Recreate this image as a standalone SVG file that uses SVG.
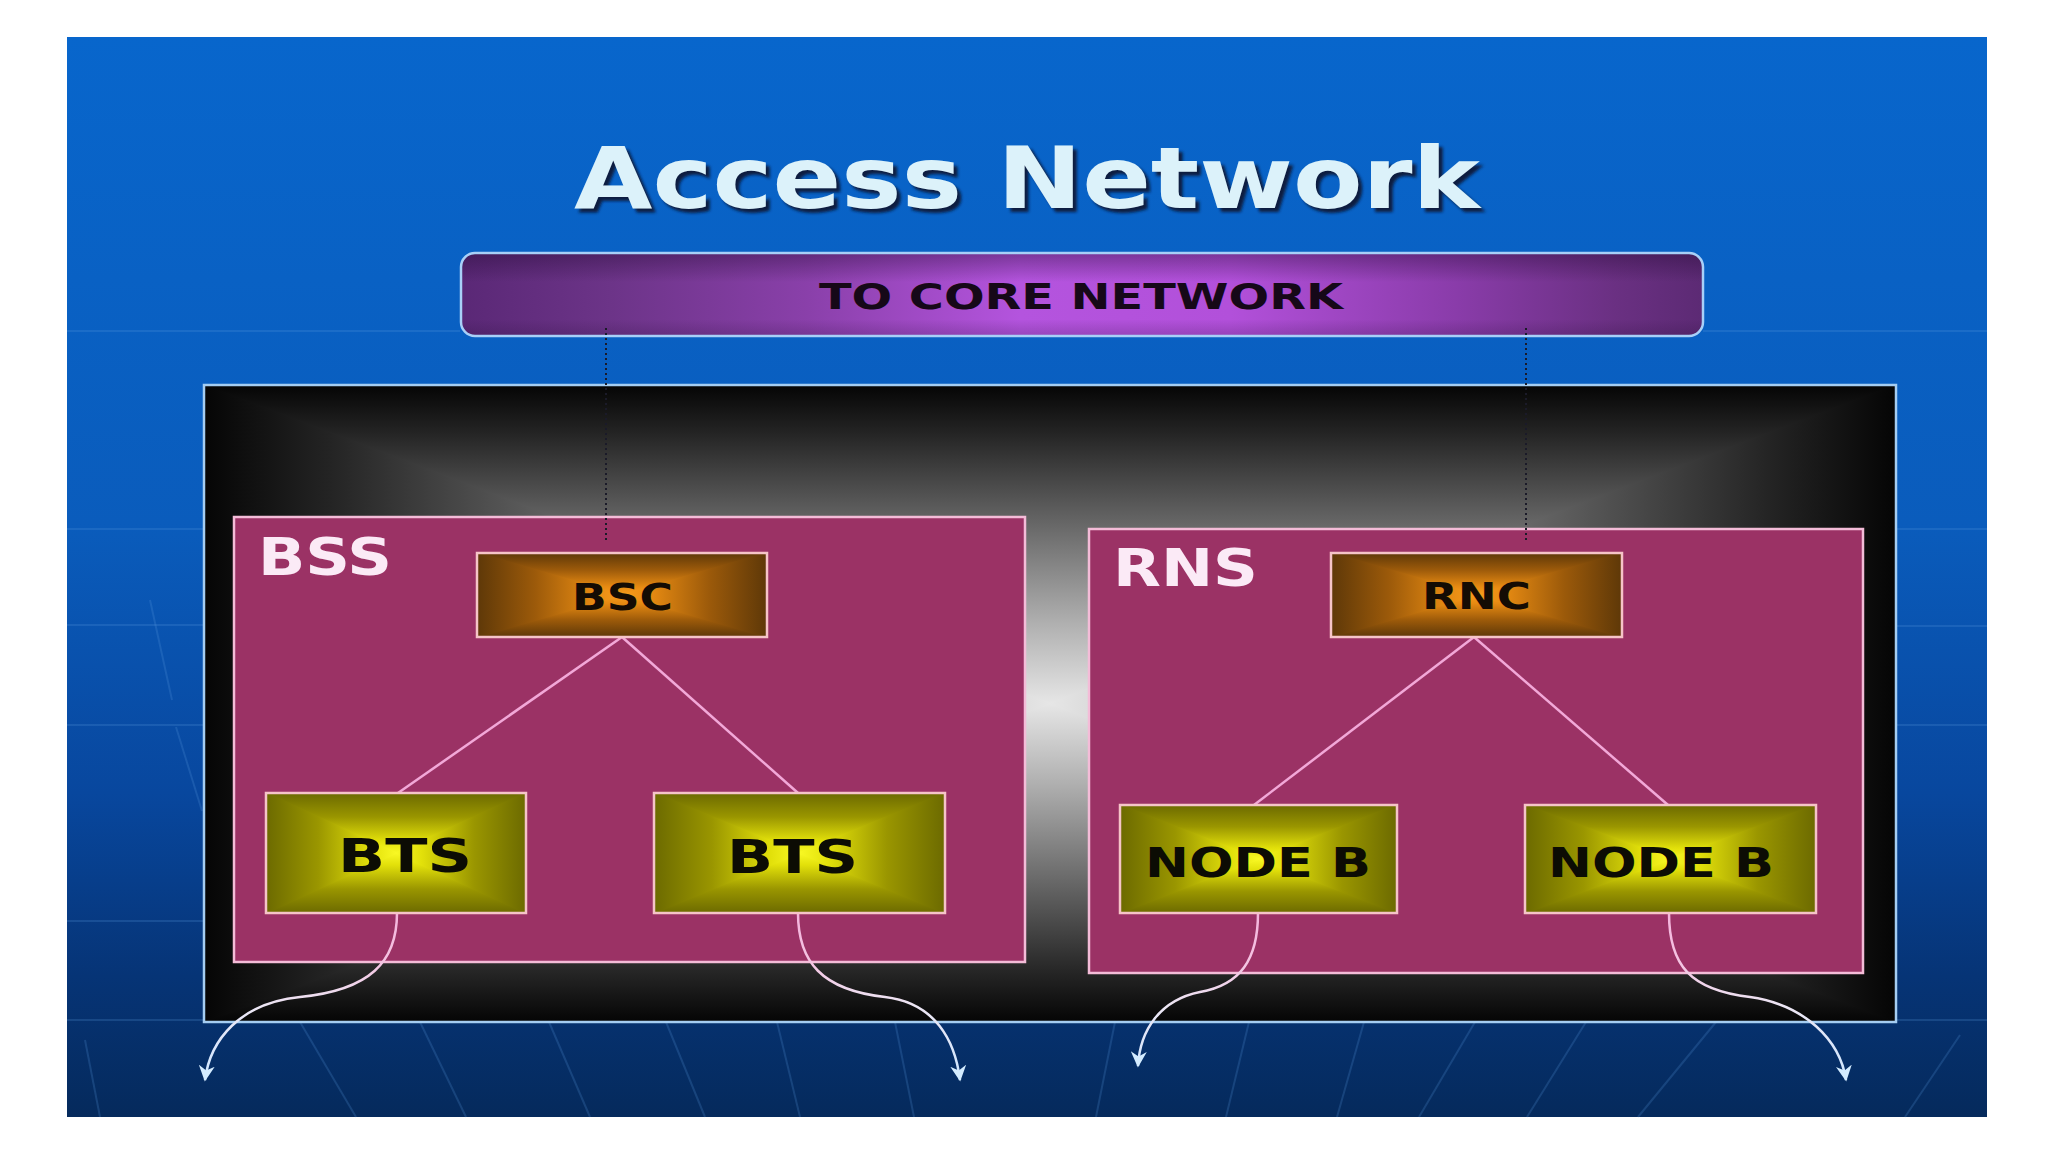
<svg xmlns="http://www.w3.org/2000/svg" xmlns:xlink="http://www.w3.org/1999/xlink" width="2048" height="1152" viewBox="0 0 2048 1152">
<defs>
  <style>
    .lbl { font-family: "DejaVu Sans", Verdana, sans-serif; font-weight: bold; }
    .node-border { fill: none; stroke: #f6c4c8; stroke-width: 2.5; }
    .grid { stroke: #5a9ae0; stroke-width: 2; opacity: 0.22; fill: none; }
    .tree { stroke: #f2a8d8; stroke-width: 2.5; fill: none; }
    .dot { stroke: #1a1a28; stroke-width: 2; stroke-dasharray: 2 3; fill: none; }
    .curve { stroke: url(#curveGrad); stroke-width: 2.5; fill: none; marker-end: url(#ah); }
    .box { fill: #9b3265; stroke: #f4bcd8; stroke-width: 2.5; }
    .seam { stroke-width: 1.5; stroke-linejoin: round; }
  </style>
  <linearGradient id="bgGrad" x1="0" y1="0" x2="0" y2="1">
    <stop offset="0" stop-color="#0866cc"/>
    <stop offset="0.45" stop-color="#0a5cbc"/>
    <stop offset="0.7" stop-color="#08479e"/>
    <stop offset="0.87" stop-color="#063476"/>
    <stop offset="1" stop-color="#052a5c"/>
  </linearGradient>
  <linearGradient id="kS">
    <stop offset="0" stop-color="#050505"/>
    <stop offset="0.15" stop-color="#242424"/>
    <stop offset="0.45" stop-color="#6a6a6a"/>
    <stop offset="0.75" stop-color="#b0b0b0"/>
    <stop offset="1" stop-color="#e6e6e6"/>
  </linearGradient>
  <linearGradient id="kT" xlink:href="#kS" href="#kS" x1="0" y1="0" x2="0" y2="1"/>
  <linearGradient id="kB" xlink:href="#kS" href="#kS" x1="0" y1="1" x2="0" y2="0"/>
  <linearGradient id="kL" xlink:href="#kS" href="#kS" x1="0" y1="0" x2="1" y2="0"/>
  <linearGradient id="kR" xlink:href="#kS" href="#kS" x1="1" y1="0" x2="0" y2="0"/>
  <linearGradient id="yS">
    <stop offset="0" stop-color="#6c6a00"/>
    <stop offset="0.4" stop-color="#9a9600"/>
    <stop offset="0.8" stop-color="#e2e00a"/>
    <stop offset="1" stop-color="#f8f824"/>
  </linearGradient>
  <linearGradient id="yT" xlink:href="#yS" href="#yS" x1="0" y1="0" x2="0" y2="1"/>
  <linearGradient id="yB" xlink:href="#yS" href="#yS" x1="0" y1="1" x2="0" y2="0"/>
  <linearGradient id="yL" xlink:href="#yS" href="#yS" x1="0" y1="0" x2="1" y2="0"/>
  <linearGradient id="yR" xlink:href="#yS" href="#yS" x1="1" y1="0" x2="0" y2="0"/>
  <linearGradient id="oS">
    <stop offset="0" stop-color="#5e3808"/>
    <stop offset="0.4" stop-color="#9c5a0a"/>
    <stop offset="0.8" stop-color="#e68a12"/>
    <stop offset="1" stop-color="#f69c1c"/>
  </linearGradient>
  <linearGradient id="oT" xlink:href="#oS" href="#oS" x1="0" y1="0" x2="0" y2="1"/>
  <linearGradient id="oB" xlink:href="#oS" href="#oS" x1="0" y1="1" x2="0" y2="0"/>
  <linearGradient id="oL" xlink:href="#oS" href="#oS" x1="0" y1="0" x2="1" y2="0"/>
  <linearGradient id="oR" xlink:href="#oS" href="#oS" x1="1" y1="0" x2="0" y2="0"/>
  <linearGradient id="barH" x1="0" y1="0" x2="1" y2="0">
    <stop offset="0" stop-color="#5a2876"/>
    <stop offset="0.12" stop-color="#6c3488"/>
    <stop offset="0.28" stop-color="#8a40aa"/>
    <stop offset="0.45" stop-color="#b454de"/>
    <stop offset="0.62" stop-color="#b250da"/>
    <stop offset="0.8" stop-color="#8a3caa"/>
    <stop offset="0.93" stop-color="#6a3082"/>
    <stop offset="1" stop-color="#5c2a74"/>
  </linearGradient>
  <linearGradient id="barV" x1="0" y1="0" x2="0" y2="1">
    <stop offset="0" stop-color="#200830" stop-opacity="0.4"/>
    <stop offset="0.35" stop-color="#200830" stop-opacity="0"/>
    <stop offset="0.8" stop-color="#200830" stop-opacity="0"/>
    <stop offset="1" stop-color="#200830" stop-opacity="0.2"/>
  </linearGradient>
  <linearGradient id="curveGrad" gradientUnits="userSpaceOnUse" x1="0" y1="913" x2="0" y2="1082">
    <stop offset="0" stop-color="#f4b4dc"/>
    <stop offset="0.3" stop-color="#f4c4e2"/>
    <stop offset="0.55" stop-color="#ece6f4"/>
    <stop offset="1" stop-color="#cce6ff"/>
  </linearGradient>
  <marker id="ah" viewBox="0 0 10 10" refX="9" refY="5" markerWidth="16" markerHeight="16" markerUnits="userSpaceOnUse" orient="auto">
    <path d="M0,0 L10,5 L0,10 L3,5 z" fill="#d4ecff"/>
  </marker>
  <filter id="blur" x="-5%" y="-20%" width="110%" height="140%">
    <feGaussianBlur stdDeviation="1.8"/>
  </filter>
</defs>

<rect x="0" y="0" width="2048" height="1152" fill="#ffffff"/>
<rect id="slide-bg" x="67" y="37" width="1920" height="1080" fill="url(#bgGrad)"/>

<g id="bg-grid">
  <line class="grid" x1="67" y1="331" x2="460" y2="331"/>
  <line class="grid" x1="1703" y1="331" x2="1987" y2="331"/>
  <line class="grid" x1="67" y1="529" x2="204" y2="529"/>
  <line class="grid" x1="67" y1="625" x2="204" y2="625"/>
  <line class="grid" x1="67" y1="725" x2="204" y2="725"/>
  <line class="grid" x1="67" y1="921" x2="204" y2="921"/>
  <line class="grid" x1="67" y1="1020" x2="204" y2="1020"/>
  <line class="grid" x1="1896" y1="529" x2="1987" y2="529"/>
  <line class="grid" x1="1896" y1="626" x2="1987" y2="626"/>
  <line class="grid" x1="1896" y1="725" x2="1987" y2="725"/>
  <line class="grid" x1="1896" y1="1020" x2="1987" y2="1020"/>
  <line class="grid" x1="176" y1="727" x2="202" y2="811"/>
  <line class="grid" x1="150" y1="600" x2="172" y2="700"/>
  <line class="grid" x1="85" y1="1040" x2="100" y2="1117"/>
  <line class="grid" x1="300" y1="1022" x2="356" y2="1117"/>
  <line class="grid" x1="420" y1="1022" x2="466" y2="1117"/>
  <line class="grid" x1="549" y1="1022" x2="590" y2="1117"/>
  <line class="grid" x1="666" y1="1022" x2="705" y2="1117"/>
  <line class="grid" x1="777" y1="1022" x2="800" y2="1117"/>
  <line class="grid" x1="895" y1="1022" x2="914" y2="1117"/>
  <line class="grid" x1="1115" y1="1022" x2="1096" y2="1117"/>
  <line class="grid" x1="1249" y1="1022" x2="1226" y2="1117"/>
  <line class="grid" x1="1364" y1="1022" x2="1337" y2="1117"/>
  <line class="grid" x1="1475" y1="1022" x2="1419" y2="1117"/>
  <line class="grid" x1="1586" y1="1022" x2="1527" y2="1117"/>
  <line class="grid" x1="1716" y1="1022" x2="1638" y2="1117"/>
  <line class="grid" x1="1960" y1="1035" x2="1905" y2="1117"/>
</g>

<g id="title">
  <text class="lbl" x="578" y="212" font-size="86" textLength="906" lengthAdjust="spacingAndGlyphs" fill="#0a1e40" filter="url(#blur)">Access Network</text>
  <text class="lbl" x="574" y="208" font-size="86" textLength="906" lengthAdjust="spacingAndGlyphs" fill="#dcf2fa">Access Network</text>
</g>

<g id="core-network">
  <rect x="461" y="253" width="1242" height="83" rx="14" fill="url(#barH)"/>
  <rect x="461" y="253" width="1242" height="83" rx="14" fill="url(#barV)" stroke="#a8d0f8" stroke-width="2.5"/>
  <text class="lbl" x="819" y="309" font-size="35" textLength="524" lengthAdjust="spacingAndGlyphs" fill="#160818">TO CORE NETWORK</text>
</g>

<g id="access-frame">
  <polygon class="seam" points="204,385 1896,385 1050,703.5" fill="url(#kT)" stroke="url(#kT)"/>
  <polygon class="seam" points="204,1022 1896,1022 1050,703.5" fill="url(#kB)" stroke="url(#kB)"/>
  <polygon class="seam" points="204,385 204,1022 1050,703.5" fill="url(#kL)" stroke="url(#kL)"/>
  <polygon class="seam" points="1896,385 1896,1022 1050,703.5" fill="url(#kR)" stroke="url(#kR)"/>
  <rect x="204" y="385" width="1692" height="637" fill="none" stroke="#a4cdf2" stroke-width="2.5"/>
</g>

<g id="bss">
  <rect class="box" x="234" y="517" width="791" height="445"/>
  <text class="lbl" x="258" y="575" font-size="51" textLength="134" lengthAdjust="spacingAndGlyphs" fill="#fbeaf6">BSS</text>
</g>
<g id="rns">
  <rect class="box" x="1089" y="529" width="774" height="444"/>
  <text class="lbl" x="1113" y="586" font-size="51" textLength="145" lengthAdjust="spacingAndGlyphs" fill="#fbeaf6">RNS</text>
</g>

<g id="connectors">
  <line class="dot" x1="606" y1="328" x2="606" y2="540"/>
  <line class="dot" x1="1526" y1="328" x2="1526" y2="540"/>
  <line class="tree" x1="622" y1="637" x2="398" y2="793"/>
  <line class="tree" x1="622" y1="637" x2="798" y2="793"/>
  <line class="tree" x1="1474" y1="637" x2="1254" y2="805"/>
  <line class="tree" x1="1474" y1="637" x2="1668" y2="805"/>
  <path class="curve" d="M397,913 C397,962 370,990 300,997 C240,1003 210,1040 205,1080"/>
  <path class="curve" d="M798,913 C798,962 822,990 885,997 C935,1003 955,1040 960,1080"/>
  <path class="curve" d="M1258,913 C1258,960 1240,985 1200,992 C1160,1000 1140,1030 1138,1066"/>
  <path class="curve" d="M1669,913 C1669,965 1690,990 1750,997 C1805,1005 1840,1040 1846,1080"/>
</g>

<g id="bsc">
  <polygon class="seam" points="477,553 767,553 622,595" fill="url(#oT)" stroke="url(#oT)"/>
  <polygon class="seam" points="477,637 767,637 622,595" fill="url(#oB)" stroke="url(#oB)"/>
  <polygon class="seam" points="477,553 477,637 622,595" fill="url(#oL)" stroke="url(#oL)"/>
  <polygon class="seam" points="767,553 767,637 622,595" fill="url(#oR)" stroke="url(#oR)"/>
  <rect class="node-border" x="477" y="553" width="290" height="84"/>
  <text class="lbl" x="572" y="610" font-size="37" textLength="101" lengthAdjust="spacingAndGlyphs" fill="#140c04">BSC</text>
</g>
<g id="rnc">
  <polygon class="seam" points="1331,553 1622,553 1476.5,595" fill="url(#oT)" stroke="url(#oT)"/>
  <polygon class="seam" points="1331,637 1622,637 1476.5,595" fill="url(#oB)" stroke="url(#oB)"/>
  <polygon class="seam" points="1331,553 1331,637 1476.5,595" fill="url(#oL)" stroke="url(#oL)"/>
  <polygon class="seam" points="1622,553 1622,637 1476.5,595" fill="url(#oR)" stroke="url(#oR)"/>
  <rect class="node-border" x="1331" y="553" width="291" height="84"/>
  <text class="lbl" x="1422" y="609" font-size="37" textLength="109" lengthAdjust="spacingAndGlyphs" fill="#140c04">RNC</text>
</g>
<g id="bts1">
  <polygon class="seam" points="266,793 526,793 396,853" fill="url(#yT)" stroke="url(#yT)"/>
  <polygon class="seam" points="266,913 526,913 396,853" fill="url(#yB)" stroke="url(#yB)"/>
  <polygon class="seam" points="266,793 266,913 396,853" fill="url(#yL)" stroke="url(#yL)"/>
  <polygon class="seam" points="526,793 526,913 396,853" fill="url(#yR)" stroke="url(#yR)"/>
  <rect class="node-border" x="266" y="793" width="260" height="120"/>
  <text class="lbl" x="338" y="872" font-size="47" textLength="134" lengthAdjust="spacingAndGlyphs" fill="#0c0c04">BTS</text>
</g>
<g id="bts2">
  <polygon class="seam" points="654,793 945,793 799.5,853" fill="url(#yT)" stroke="url(#yT)"/>
  <polygon class="seam" points="654,913 945,913 799.5,853" fill="url(#yB)" stroke="url(#yB)"/>
  <polygon class="seam" points="654,793 654,913 799.5,853" fill="url(#yL)" stroke="url(#yL)"/>
  <polygon class="seam" points="945,793 945,913 799.5,853" fill="url(#yR)" stroke="url(#yR)"/>
  <rect class="node-border" x="654" y="793" width="291" height="120"/>
  <text class="lbl" x="727" y="873" font-size="47" textLength="131" lengthAdjust="spacingAndGlyphs" fill="#0c0c04">BTS</text>
</g>
<g id="nodeb1">
  <polygon class="seam" points="1120,805 1397,805 1258.5,859" fill="url(#yT)" stroke="url(#yT)"/>
  <polygon class="seam" points="1120,913 1397,913 1258.5,859" fill="url(#yB)" stroke="url(#yB)"/>
  <polygon class="seam" points="1120,805 1120,913 1258.5,859" fill="url(#yL)" stroke="url(#yL)"/>
  <polygon class="seam" points="1397,805 1397,913 1258.5,859" fill="url(#yR)" stroke="url(#yR)"/>
  <rect class="node-border" x="1120" y="805" width="277" height="108"/>
  <text class="lbl" x="1145" y="877" font-size="40" textLength="226" lengthAdjust="spacingAndGlyphs" fill="#0c0c04">NODE B</text>
</g>
<g id="nodeb2">
  <polygon class="seam" points="1525,805 1816,805 1670.5,859" fill="url(#yT)" stroke="url(#yT)"/>
  <polygon class="seam" points="1525,913 1816,913 1670.5,859" fill="url(#yB)" stroke="url(#yB)"/>
  <polygon class="seam" points="1525,805 1525,913 1670.5,859" fill="url(#yL)" stroke="url(#yL)"/>
  <polygon class="seam" points="1816,805 1816,913 1670.5,859" fill="url(#yR)" stroke="url(#yR)"/>
  <rect class="node-border" x="1525" y="805" width="291" height="108"/>
  <text class="lbl" x="1548" y="877" font-size="40" textLength="226" lengthAdjust="spacingAndGlyphs" fill="#0c0c04">NODE B</text>
</g>
</svg>
